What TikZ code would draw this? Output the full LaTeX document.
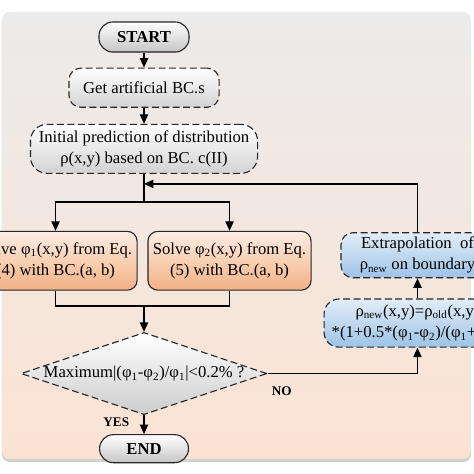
\documentclass[tikz,border=0pt]{standalone}
\usepackage{fontspec}
\setmainfont{Liberation Serif}
\usetikzlibrary{arrows.meta, positioning, shapes.geometric}

\definecolor{panelgray}{HTML}{EBEBEB}
\definecolor{panelpeach}{HTML}{FBE3D3}
\definecolor{orangetop}{HTML}{FCEDE3}
\definecolor{orangebot}{HTML}{F4B184}
\definecolor{bluetop}{HTML}{E2EDF8}
\definecolor{bluebot}{HTML}{9DC3E6}

\begin{document}
\begin{tikzpicture}[
  node distance=0.4cm and 0.7cm,
  base/.style={draw=black!85, line width=0.8pt, align=center, inner sep=2pt,
               font=\fontsize{12}{15.3}\selectfont},
  dsh/.style={dash pattern=on 5pt off 2.5pt},
  term/.style={base, rounded corners=0.35cm, top color=white, bottom color=gray!45,
               minimum width=2.28cm, minimum height=0.76cm,
               font=\fontsize{12}{14}\selectfont\bfseries},
  gbox/.style={base, dsh, top color=white, bottom color=gray!35},
  obox/.style={base, rounded corners=0.25cm, top color=orangetop, bottom color=orangebot,
               minimum width=4.13cm, minimum height=1.49cm},
  bbox/.style={base, dsh, rounded corners=0.3cm, top color=bluetop, bottom color=bluebot},
  dia/.style={base, dsh, diamond, aspect=3, inner sep=0pt, top color=white,
              bottom color=gray!40},
  arrow/.style={-{Triangle[length=2.4mm, width=2.1mm]}, line width=0.9pt},
  lbl/.style={font=\fontsize{9.5}{11}\selectfont\bfseries, inner sep=0pt}
]
\path[use as bounding box, clip] (0,0) rectangle (12,-12);

% background panel
\fill[black!18, rounded corners=0.2cm] (0.05,-0.38) rectangle (11.92,-11.70);
\shade[top color=panelgray, middle color=panelgray!85!panelpeach, bottom color=panelpeach,
       rounded corners=0.2cm] (0.05,-0.30) rectangle (11.92,-11.62);

\node[term] (start) at (3.646,-0.937) {START};
\node[gbox, below=0.38cm of start, minimum width=3.8cm, minimum height=0.99cm,
      rounded corners=0.3cm] (bcs) {Get artificial BC.s};
\node[gbox, below=0.405cm of bcs, minimum width=5.75cm, minimum height=1.24cm,
      rounded corners=0.42cm] (init) {Initial prediction of distribution\\ρ(x,y) based on BC. c(II)};

\coordinate[below=0.253cm of init] (loop);
\coordinate[below=0.709cm of init] (split);

\node[obox, below=1.44cm of init, xshift=-2.24cm] (solvea)
  {Solve φ\textsubscript{1}(x,y) from Eq.\\(4) with BC.(a, b)};
\node[obox, below=1.44cm of init, xshift=2.165cm] (solveb)
  {Solve φ\textsubscript{2}(x,y) from Eq.\\(5) with BC.(a, b)};

\node[bbox, right=0.73cm of solveb, yshift=0.14cm, minimum width=3.87cm,
      minimum height=1.14cm] (extra) {Extrapolation~~of\\ρ\textsubscript{new} on boundary};
\node[bbox, below=0.51cm of extra, minimum width=4.73cm, minimum height=1.22cm,
      rounded corners=0.38cm] (update)
  {ρ\textsubscript{new}(x,y)=ρ\textsubscript{old}(x,y)\\{*}(1+0.5*(φ\textsubscript{1}-φ\textsubscript{2})/(φ\textsubscript{1}+φ\textsubscript{2}))};

\node[dia, below=4.0cm of init, minimum width=6.23cm, minimum height=2.08cm] (check)
  {Maximum|(φ\textsubscript{1}-φ\textsubscript{2})/φ\textsubscript{1}|<0.2\% ?};
\coordinate[above=0.658cm of check] (merge);

\node[term, below=0.48cm of check, minimum width=2.25cm, minimum height=0.71cm] (end) {END};
\node[lbl, below left=0.06cm and 0.37cm of check.south] (yes) {YES};
\node[lbl, below right=0.33cm and 0.1cm of check.east] (no) {NO};

\draw[arrow] (start) -- (bcs);
\draw[arrow] (bcs) -- (init);
\draw[line width=0.9pt] (init) -- (split);
\draw[arrow] (split) -| (solvea);
\draw[arrow] (split) -| (solveb);
\draw[line width=0.9pt] (solvea.south) |- (merge) -| (solveb.south);
\draw[arrow] (merge) -- (check);
\draw[arrow] (check) -- (end);
\draw[arrow] (check.east) -| (update.south);
\draw[arrow] (update) -- (extra);
\draw[arrow] (extra.north) |- (loop);
\end{tikzpicture}
\end{document}
